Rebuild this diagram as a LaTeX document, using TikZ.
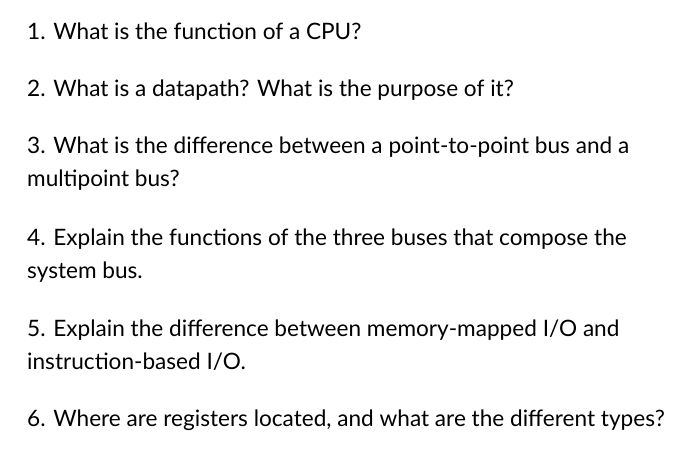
\documentclass[tikz,border=0pt]{standalone}
\usepackage{fontspec}
\setmainfont{Lato}
\begin{document}
\begin{tikzpicture}[x=1pt,y=-1pt,q/.style={anchor=base west,inner sep=0pt,font=\fontsize{22.6}{26}\selectfont}]
\useasboundingbox[fill=white] (0,0) rectangle (700,469);
\node[q] (l1) at (27,39) {1. What is the function of a CPU?};
\node[q] (l2) at (27,96) {2. What is a datapath? What is the purpose of it?};
\node[q] (l3) at (27,153) {3. What is the difference between a point-to-point bus and a};
\node[q] (l3b) at (27,186) {multipoint bus?};
\node[q] (l4) at (27,245) {4. Explain the functions of the three buses that compose the};
\node[q] (l4b) at (27,278) {system bus.};
\node[q] (l5) at (27,336) {5. Explain the difference between memory-mapped I/O and};
\node[q] (l5b) at (27,369) {instruction-based I/O.};
\node[q] (l6) at (27,426) {6. Where are registers located, and what are the different types?};
\end{tikzpicture}
\end{document}
